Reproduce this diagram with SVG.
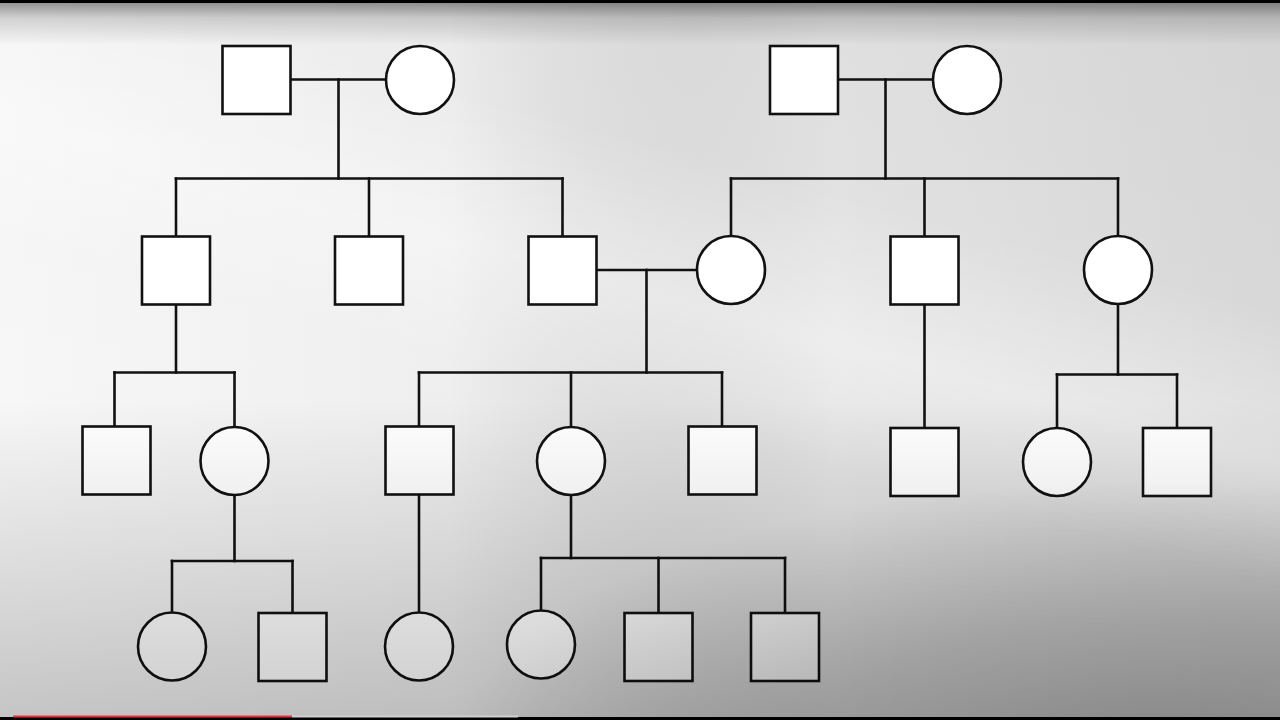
<svg xmlns="http://www.w3.org/2000/svg" width="1280" height="720" viewBox="0 0 1280 720">
<defs>
<linearGradient id="bgV" x1="0" y1="0" x2="0" y2="1">
<stop offset="0" stop-color="#e6e6e6"/>
<stop offset="0.5" stop-color="#ebebeb"/>
<stop offset="1" stop-color="#e8e8e8"/>
</linearGradient>
<linearGradient id="bgH" x1="0" y1="0" x2="1" y2="0">
<stop offset="0" stop-color="#ffffff" stop-opacity="0.6"/>
<stop offset="0.35" stop-color="#ffffff" stop-opacity="0.2"/>
<stop offset="0.65" stop-color="#000000" stop-opacity="0.03"/>
<stop offset="1" stop-color="#000000" stop-opacity="0.08"/>
</linearGradient>
<linearGradient id="streak" x1="760" y1="170" x2="690" y2="430" gradientUnits="userSpaceOnUse">
<stop offset="0" stop-color="#ffffff" stop-opacity="0"/>
<stop offset="0.55" stop-color="#ffffff" stop-opacity="0.35"/>
<stop offset="1" stop-color="#ffffff" stop-opacity="0"/>
</linearGradient>
<linearGradient id="topShade" x1="0" y1="0" x2="0" y2="45" gradientUnits="userSpaceOnUse">
<stop offset="0" stop-color="#000000" stop-opacity="0.45"/>
<stop offset="0.4" stop-color="#000000" stop-opacity="0.15"/>
<stop offset="1" stop-color="#000000" stop-opacity="0"/>
</linearGradient>
<linearGradient id="botShade" x1="0" y1="400" x2="0" y2="720" gradientUnits="userSpaceOnUse">
<stop offset="0" stop-color="#000000" stop-opacity="0"/>
<stop offset="0.6" stop-color="#000000" stop-opacity="0.12"/>
<stop offset="1" stop-color="#000000" stop-opacity="0.2"/>
</linearGradient>
<radialGradient id="cornerShade" cx="0" cy="0" r="1" gradientUnits="userSpaceOnUse" gradientTransform="translate(1150 760) scale(700 280)">
<stop offset="0" stop-color="#000000" stop-opacity="0.22"/>
<stop offset="0.5" stop-color="#000000" stop-opacity="0.14"/>
<stop offset="1" stop-color="#000000" stop-opacity="0"/>
</radialGradient>
</defs>
<style>
.n{fill:#ffffff;stroke:#111111;stroke-width:2.6}
.c line{stroke:#111111;stroke-width:2.6;stroke-linecap:square}
.ov{pointer-events:none}
</style>
<rect x="0" y="0" width="1280" height="720" fill="url(#bgV)"/>
<rect x="0" y="0" width="1280" height="720" fill="url(#bgH)"/>
<rect x="0" y="0" width="1280" height="720" fill="url(#streak)"/>

<g id="connectors" class="c">
<line x1="291" y1="79.5" x2="386" y2="79.5"/>
<line x1="338.5" y1="79.5" x2="338.5" y2="178.5"/>
<line x1="176" y1="178.5" x2="562.5" y2="178.5"/>
<line x1="176" y1="178.5" x2="176" y2="236.5"/>
<line x1="369" y1="178.5" x2="369" y2="236.5"/>
<line x1="562.5" y1="178.5" x2="562.5" y2="236.5"/>

<line x1="838.5" y1="79.5" x2="933" y2="79.5"/>
<line x1="885.5" y1="79.5" x2="885.5" y2="178.5"/>
<line x1="731" y1="178.5" x2="1118" y2="178.5"/>
<line x1="731" y1="178.5" x2="731" y2="236"/>
<line x1="924.5" y1="178.5" x2="924.5" y2="236.5"/>
<line x1="1118" y1="178.5" x2="1118" y2="236"/>

<line x1="596.5" y1="270" x2="697" y2="270"/>
<line x1="646.5" y1="270" x2="646.5" y2="372.5"/>
<line x1="419" y1="372.5" x2="722" y2="372.5"/>
<line x1="419" y1="372.5" x2="419" y2="426.5"/>
<line x1="571" y1="372.5" x2="571" y2="427"/>
<line x1="722" y1="372.5" x2="722" y2="426.5"/>

<line x1="176" y1="304.5" x2="176" y2="372.5"/>
<line x1="114.5" y1="372.5" x2="234.5" y2="372.5"/>
<line x1="114.5" y1="372.5" x2="114.5" y2="426.5"/>
<line x1="234.5" y1="372.5" x2="234.5" y2="427"/>

<line x1="924.5" y1="304.5" x2="924.5" y2="428"/>
<line x1="1118" y1="304" x2="1118" y2="374.5"/>
<line x1="1057" y1="374.5" x2="1177" y2="374.5"/>
<line x1="1057" y1="374.5" x2="1057" y2="428"/>
<line x1="1177" y1="374.5" x2="1177" y2="428"/>

<line x1="234.5" y1="495" x2="234.5" y2="561"/>
<line x1="172" y1="561" x2="292.5" y2="561"/>
<line x1="172" y1="561" x2="172" y2="612.5"/>
<line x1="292.5" y1="561" x2="292.5" y2="613"/>

<line x1="419" y1="494.5" x2="419" y2="612.5"/>

<line x1="571" y1="495" x2="571" y2="558"/>
<line x1="541" y1="558" x2="785" y2="558"/>
<line x1="541" y1="558" x2="541" y2="610"/>
<line x1="658.5" y1="558" x2="658.5" y2="613"/>
<line x1="785" y1="558" x2="785" y2="613"/>
</g>

<g id="g1-male-left"><rect class="n" x="222.5" y="46" width="68" height="68"/></g>
<g id="g1-female-left"><ellipse class="n" cx="420" cy="80" rx="34" ry="34"/></g>
<g id="g1-male-right"><rect class="n" x="770" y="46" width="68" height="68"/></g>
<g id="g1-female-right"><ellipse class="n" cx="967" cy="80" rx="34" ry="34"/></g>

<g id="g2-male-1"><rect class="n" x="142" y="236.5" width="68" height="68"/></g>
<g id="g2-male-2"><rect class="n" x="335" y="236.5" width="68" height="68"/></g>
<g id="g2-male-3"><rect class="n" x="528.5" y="236.5" width="68" height="68"/></g>
<g id="g2-female-4"><ellipse class="n" cx="731" cy="270" rx="34" ry="34"/></g>
<g id="g2-male-5"><rect class="n" x="890.5" y="236.5" width="68" height="68"/></g>
<g id="g2-female-6"><ellipse class="n" cx="1118" cy="270" rx="34" ry="34"/></g>

<g id="g3-male-1"><rect class="n" x="82.5" y="426.5" width="68" height="68"/></g>
<g id="g3-female-2"><ellipse class="n" cx="234.5" cy="461" rx="34" ry="34"/></g>
<g id="g3-male-3"><rect class="n" x="385.5" y="426.5" width="68" height="68"/></g>
<g id="g3-female-4"><ellipse class="n" cx="571" cy="461" rx="34" ry="34"/></g>
<g id="g3-male-5"><rect class="n" x="688.5" y="426.5" width="68" height="68"/></g>
<g id="g3-male-6"><rect class="n" x="890.5" y="428" width="68" height="68"/></g>
<g id="g3-female-7"><ellipse class="n" cx="1057" cy="462" rx="34" ry="34"/></g>
<g id="g3-male-8"><rect class="n" x="1143" y="428" width="68" height="68"/></g>

<g id="g4-female-1"><ellipse class="n" cx="172" cy="646.5" rx="34" ry="34"/></g>
<g id="g4-male-2"><rect class="n" x="258.5" y="613" width="68" height="68"/></g>
<g id="g4-female-3"><ellipse class="n" cx="419" cy="646.5" rx="34" ry="34"/></g>
<g id="g4-female-4"><ellipse class="n" cx="541" cy="644.5" rx="34" ry="34"/></g>
<g id="g4-male-5"><rect class="n" x="624.5" y="613" width="68" height="68"/></g>
<g id="g4-male-6"><rect class="n" x="751" y="613" width="68" height="68"/></g>

<rect class="ov" x="0" y="0" width="1280" height="720" fill="url(#botShade)"/>
<rect class="ov" x="0" y="0" width="1280" height="720" fill="url(#cornerShade)"/>
<rect class="ov" x="0" y="0" width="1280" height="45" fill="url(#topShade)"/>
<rect x="0" y="0" width="1280" height="3" fill="#000000"/>
<rect x="0" y="717" width="1280" height="3" fill="#000000"/>
<rect x="13" y="715.5" width="279" height="2" fill="#e8333a"/>
<rect x="292" y="715.5" width="226" height="2" fill="#d0d0d0"/>
</svg>
